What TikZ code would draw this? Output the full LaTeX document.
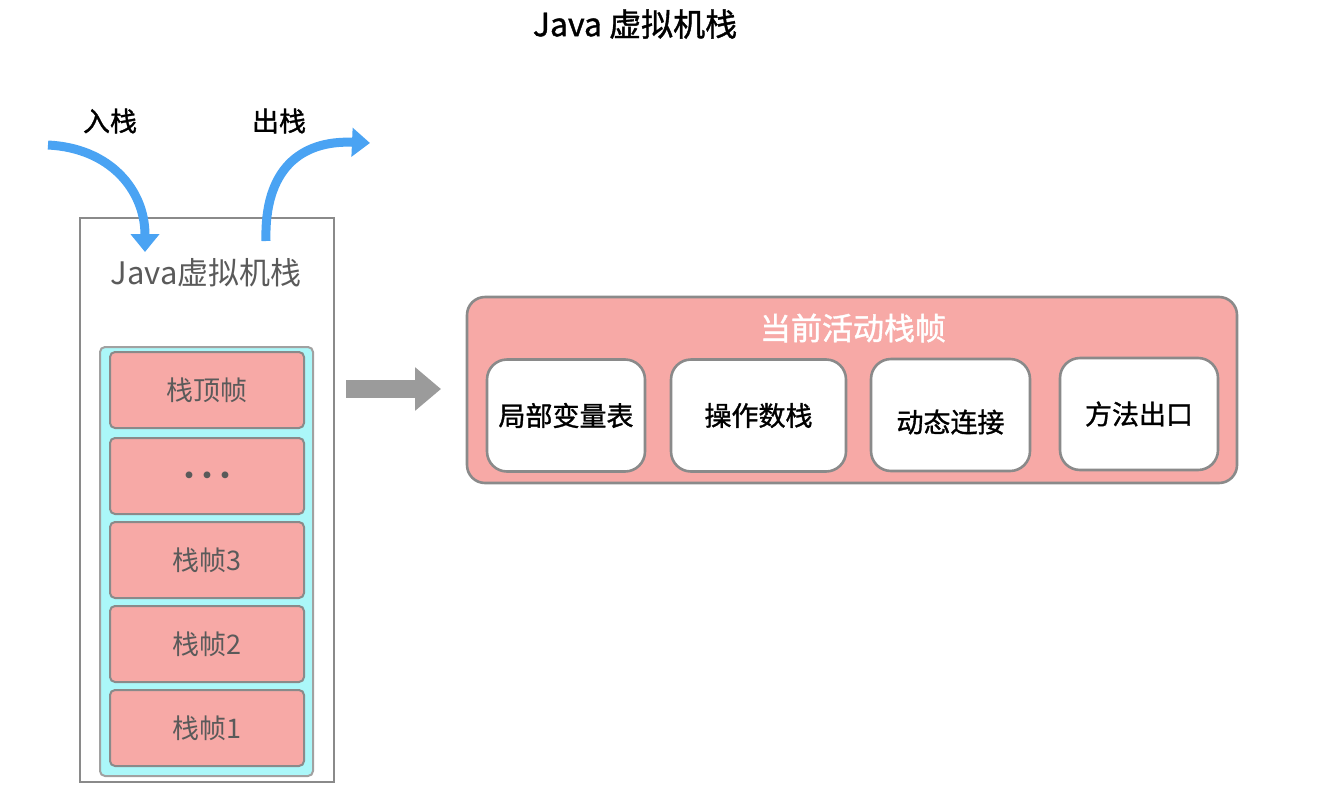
\documentclass[tikz,border=0pt]{standalone}
\usepackage{fontspec}
\setmainfont{Noto Sans CJK SC}
\newfontfamily\medfont{Noto Sans CJK SC}[FakeBold=1.2]
\usetikzlibrary{arrows.meta}
\definecolor{framepink}{HTML}{F7A9A6}
\definecolor{stackcyan}{HTML}{ABF7F9}
\definecolor{bordergray}{HTML}{8A8A8A}
\definecolor{textgray}{HTML}{5A5A5A}
\definecolor{flowblue}{HTML}{4AA3F3}
\definecolor{arrowgray}{HTML}{9B9B9B}
\begin{document}
\begin{tikzpicture}[x=1pt,y=-1pt,
  frame/.style={draw=bordergray,line width=2pt,fill=framepink,rounded corners=5pt,minimum width=194pt,minimum height=76pt,inner sep=0pt,text=textgray,font=\fontsize{27}{30}\selectfont},
  part/.style={draw=bordergray,line width=2.6pt,fill=white,rounded corners=20pt,minimum height=112pt,inner sep=0pt,font=\medfont\fontsize{27}{30}\selectfont},
  flow/.style={draw=flowblue,line width=9pt,-{Triangle[length=18pt,width=28pt]}}
]
\useasboundingbox (0,0) rectangle (1324,798);
\node[font=\medfont\fontsize{32}{36}\selectfont] (title) at (635,24) {Java 虚拟机栈};

\node[draw=bordergray,line width=1.2pt,fill=white,minimum width=254pt,minimum height=564pt,inner sep=0pt] (jvm) at (207,500) {};
\node[text=textgray,font=\fontsize{31}{34}\selectfont] (jvmlabel) at (206,273) {Java虚拟机栈};
\node[draw=bordergray!80,line width=2pt,fill=stackcyan,rounded corners=5pt,minimum width=213pt,minimum height=429pt,inner sep=0pt] (stack) at (206.5,561.5) {};

\node[frame] (top) at (207,390) {栈顶帧};
\node[frame] (dots) at (207,476) {\raisebox{-11pt}[0pt][0pt]{\fontsize{32}{32}\selectfont •\hspace{-14pt}•\hspace{-14pt}•}};
\node[frame] (f3) at (207,560) {栈帧3};
\node[frame] (f2) at (207,644) {栈帧2};
\node[frame] (f1) at (207,728) {栈帧1};

\node[draw=bordergray,line width=2.6pt,fill=framepink,rounded corners=18pt,minimum width=770pt,minimum height=186pt,inner sep=0pt] (cur) at (852,390) {};
\node[text=white,font=\medfont\fontsize{31}{34}\selectfont] (curlabel) at (853,328) {当前活动栈帧};

\node[part,minimum width=158pt] (local) at (566,415.5) {局部变量表};
\node[part,minimum width=175pt] (operand) at (758.5,415.5) {操作数栈};
\node[part,minimum width=159pt] (dynamic) at (950.5,415) {};
\node[font=\medfont\fontsize{27}{30}\selectfont] (dynamictext) at (950.5,422) {动态连接};
\node[part,minimum width=158pt] (exit) at (1139,414) {方法出口};

% gray arrow
\coordinate (ga) at (346,389);
\coordinate (gb) at (441,389);
\draw[arrowgray,line width=18pt,-{Triangle[length=26pt,width=42pt]}] (ga) -- (gb);

% push / pop
\node[font=\medfont\fontsize{27}{30}\selectfont] (push) at (110,121) {入栈};
\node[font=\medfont\fontsize{27}{30}\selectfont] (pop) at (279,121) {出栈};
\coordinate (pushs) at (48,145);
\coordinate (pushe) at (145,252);
\coordinate (pops) at (266,241);
\coordinate (pope) at (370,143);
\draw[flow] (pushs) .. controls (110,148) and (145,190) .. (pushe);
\draw[flow] (pops) .. controls (264,170) and (300,140) .. (pope);
\end{tikzpicture}
\end{document}
